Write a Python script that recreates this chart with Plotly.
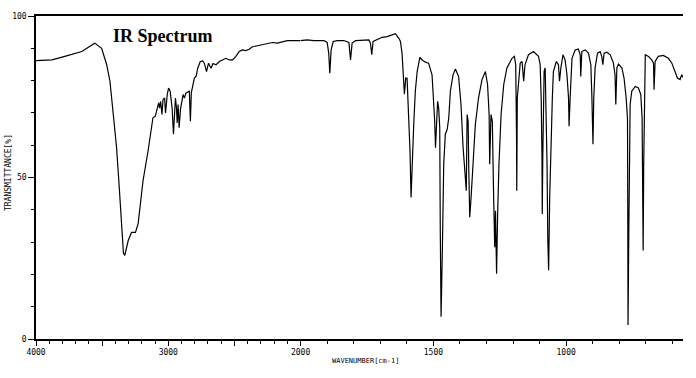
import plotly.graph_objects as go
import numpy as np

# Wavenumbers (cm-1) and transmittance (%)
wavenumber = [4000, 3880, 3782, 3654, 3556, 3504, 3466, 3441, 3416, 3391, 3374, 3354, 3339, 3329,
              3303, 3278, 3248, 3228, 3191, 3153, 3128, 3116, 3098, 3083, 3073, 3066, 3058, 3048,
              3040, 3028, 3021, 3008, 2998, 2986, 2978, 2971, 2961, 2953, 2946, 2938, 2933, 2926,
              2918, 2908, 2898, 2888, 2878, 2866, 2841, 2833, 2826, 2815, 2803, 2790, 2777, 2758,
              2740, 2728, 2711, 2696, 2677, 2662, 2639, 2614, 2590, 2564, 2539, 2514, 2489, 2464,
              2439, 2414, 2389, 2364, 2326, 2289, 2251, 2213, 2176, 2138, 2100, 2050, 2000,
              1975, 1950, 1912, 1900, 1894, 1890, 1885, 1877, 1862, 1837, 1818, 1812, 1806, 1793,
              1762, 1743, 1737, 1732, 1727, 1712, 1693, 1674, 1655, 1643, 1630, 1624, 1618, 1612,
              1609, 1604, 1599, 1593, 1588, 1584, 1580, 1574, 1568, 1561, 1551, 1542, 1530, 1518,
              1505, 1499, 1495, 1492, 1489, 1484, 1480, 1476, 1474, 1471, 1466, 1461, 1455, 1448,
              1442, 1436, 1426, 1417, 1405, 1396, 1388, 1383, 1380, 1376, 1373, 1369, 1367, 1363,
              1358, 1350, 1342, 1330, 1317, 1304, 1296, 1290, 1288, 1283, 1278, 1273, 1269, 1266,
              1262, 1258, 1253, 1245, 1235, 1223, 1204, 1195, 1190, 1187, 1186, 1184, 1178, 1173,
              1166, 1163, 1160, 1155, 1142, 1123, 1104, 1098, 1094, 1091, 1090, 1088, 1083, 1079,
              1075, 1072, 1069, 1066, 1062, 1057, 1052, 1048, 1037, 1029, 1025, 1020, 1012, 1004,
              997, 991, 989, 985, 978, 966, 954, 947, 945, 941, 928, 916, 907, 903, 899, 896, 891,
              882, 872, 866, 862, 857, 847, 834, 822, 816, 813, 809, 803, 790, 782, 774, 769, 768,
              767, 764, 762, 759, 753, 740, 728, 719, 714, 711, 710, 708, 705, 702, 690, 678, 671,
              669, 665, 653, 634, 615, 602, 590, 581, 571, 565, 560]

transmittance = [86.2, 86.4, 87.5, 89.0, 91.6, 90.0, 85.0, 79.8, 69.6, 59.2, 49.0, 37.7, 26.5, 25.9,
                 30.5, 33.0, 33.0, 35.7, 49.0, 58.2, 66.4, 68.5, 69.0, 72.1, 73.1, 71.5, 73.6, 69.5,
                 74.1, 74.6, 70.0, 75.7, 77.7, 76.7, 73.6, 71.5, 63.4, 72.1, 74.6, 71.5, 66.9, 72.6,
                 65.4, 71.1, 73.6, 75.7, 74.6, 76.2, 76.7, 67.4, 76.2, 78.7, 80.8, 81.3, 83.9, 85.9,
                 86.1, 85.4, 82.8, 85.4, 83.8, 85.3, 84.9, 85.9, 86.4, 86.9, 86.4, 86.4, 87.5, 89.0,
                 89.5, 89.3, 89.7, 90.5, 90.8, 91.1, 91.6, 91.8, 91.6, 92.1, 92.4, 92.4, 92.4,
                 92.6, 92.4, 92.4, 91.8, 88.5, 82.3, 89.5, 92.1, 92.4, 92.4, 91.8, 86.4, 91.6, 92.4,
                 92.6, 92.6, 91.6, 88.0, 92.1, 92.6, 93.4, 93.6, 94.1, 94.5, 93.1, 92.1, 88.5, 81.9,
                 75.8, 80.8, 80.7, 68.5, 58.2, 43.8, 54.2, 66.4, 76.7, 82.8, 87.2, 86.4, 85.7, 85.4,
                 81.8, 74.6, 67.4, 59.2, 64.4, 73.6, 71.5, 65.4, 33.6, 6.9, 28.4, 54.2, 63.4, 64.9,
                 68.5, 76.7, 81.8, 83.6, 81.3, 72.6, 59.2, 52.0, 49.0, 45.9, 69.5, 67.4, 54.1, 37.7,
                 43.8, 56.1, 66.4, 74.6, 80.3, 82.8, 78.8, 69.5, 54.1, 69.5, 67.4, 43.8, 28.4, 39.7,
                 20.2, 38.7, 54.1, 69.5, 78.8, 83.9, 86.9, 87.5, 84.9, 64.4, 45.9, 74.6, 81.8, 85.4,
                 85.9, 81.8, 79.8, 84.9, 88.0, 89.0, 87.5, 85.0, 74.6, 56.1, 38.7, 56.1, 82.8, 83.9,
                 69.5, 54.1, 30.5, 21.3, 43.8, 64.4, 74.6, 82.8, 85.9, 84.9, 79.8, 83.9, 88.0, 86.4,
                 81.8, 74.6, 65.9, 74.6, 86.9, 89.5, 89.8, 88.0, 81.3, 89.0, 89.5, 88.5, 84.9, 74.6, 60.3, 74.6, 83.9,
                 88.5, 89.0, 87.5, 84.9, 88.5, 88.8, 88.0, 85.4, 81.8, 72.6, 83.9, 85.1, 83.9, 80.8, 74.6, 68.0, 42.8,
                 4.3, 33.6, 54.1, 72.6, 76.7, 78.2, 77.7, 75.7, 68.5, 49.0, 27.4, 54.1, 79.8, 88.0, 87.5, 86.4, 85.4,
                 77.2, 85.9, 87.5, 87.8, 86.9, 85.4, 82.8, 80.8, 80.3, 81.8, 81.0]

high_ticks = [4000, 3500, 3000, 2500]
high_labels = ["4000", "", "3000", ""]
low_ticks = [2000, 1500, 1000]
low_labels = ["2000", "1500", "1000"]
y_ticks = [0, 50, 100]
y_labels = ["0", "50", "100"]

wn = np.array(wavenumber)
tr = np.array(transmittance)
hi = wn >= 2000
lo = wn <= 2000

line_style = dict(color="black", width=1.2)
fig = go.Figure()
fig.add_trace(go.Scatter(x=wn[hi], y=tr[hi], mode="lines", line=line_style,
                         xaxis="x", yaxis="y", showlegend=False))
fig.add_trace(go.Scatter(x=wn[lo], y=tr[lo], mode="lines", line=line_style,
                         xaxis="x2", yaxis="y", showlegend=False))

split = 265 / 648
tickfont = dict(family="DejaVu Sans Mono", size=8, color="black")
common_x = dict(showline=True, linecolor="black", linewidth=1.5, mirror=True,
                ticks="outside", ticklen=5, tickcolor="black", tickwidth=1,
                showgrid=False, zeroline=False, tickfont=tickfont, anchor="y",
                minor=dict(ticks="outside", ticklen=3, tickcolor="black", dtick=100, tick0=0,
                           showgrid=False))

fig.update_layout(
    width=696, height=378,
    margin=dict(l=35, r=13, t=14, b=39),
    paper_bgcolor="white", plot_bgcolor="white",
    xaxis=dict(domain=[0, split], range=[4000, 2000], tickmode="array",
               tickvals=high_ticks, ticktext=high_labels, **common_x),
    xaxis2=dict(domain=[split, 1], range=[2000, 560], tickmode="array",
                tickvals=low_ticks, ticktext=low_labels, **common_x),
    yaxis=dict(range=[0, 100], showline=True, linecolor="black", linewidth=1.5,
               ticks="outside", ticklen=6, tickcolor="black", tickmode="array",
               tickvals=y_ticks, ticktext=y_labels, showgrid=False, zeroline=False,
               tickfont=tickfont, anchor="x",
               minor=dict(ticks="outside", ticklen=3, tickcolor="black", dtick=10, tick0=0,
                          showgrid=False)),
    annotations=[
        dict(text="<b>IR Spectrum</b>", x=(110 - 35) / 648, y=(339 - 34) / 325,
             xref="paper", yref="paper", xanchor="left", yanchor="middle", showarrow=False,
             font=dict(family="Liberation Serif", size=18, color="black")),
        dict(text="TRANSMITTANCE[%]", x=(7 - 35) / 648, y=(339 - 172) / 325,
             xref="paper", yref="paper", xanchor="center", yanchor="middle", showarrow=False,
             textangle=-90, font=dict(family="DejaVu Sans Mono", size=8, color="black")),
        dict(text="WAVENUMBER[cm-1]", x=(365 - 35) / 648, y=(339 - 361) / 325,
             xref="paper", yref="paper", xanchor="center", yanchor="middle", showarrow=False,
             font=dict(family="DejaVu Sans Mono", size=7, color="black")),
    ],
)

fig.write_html("out.html", config={"displayModeBar": False},
               post_script="document.body.style.margin='0';document.body.style.overflow='hidden';")
